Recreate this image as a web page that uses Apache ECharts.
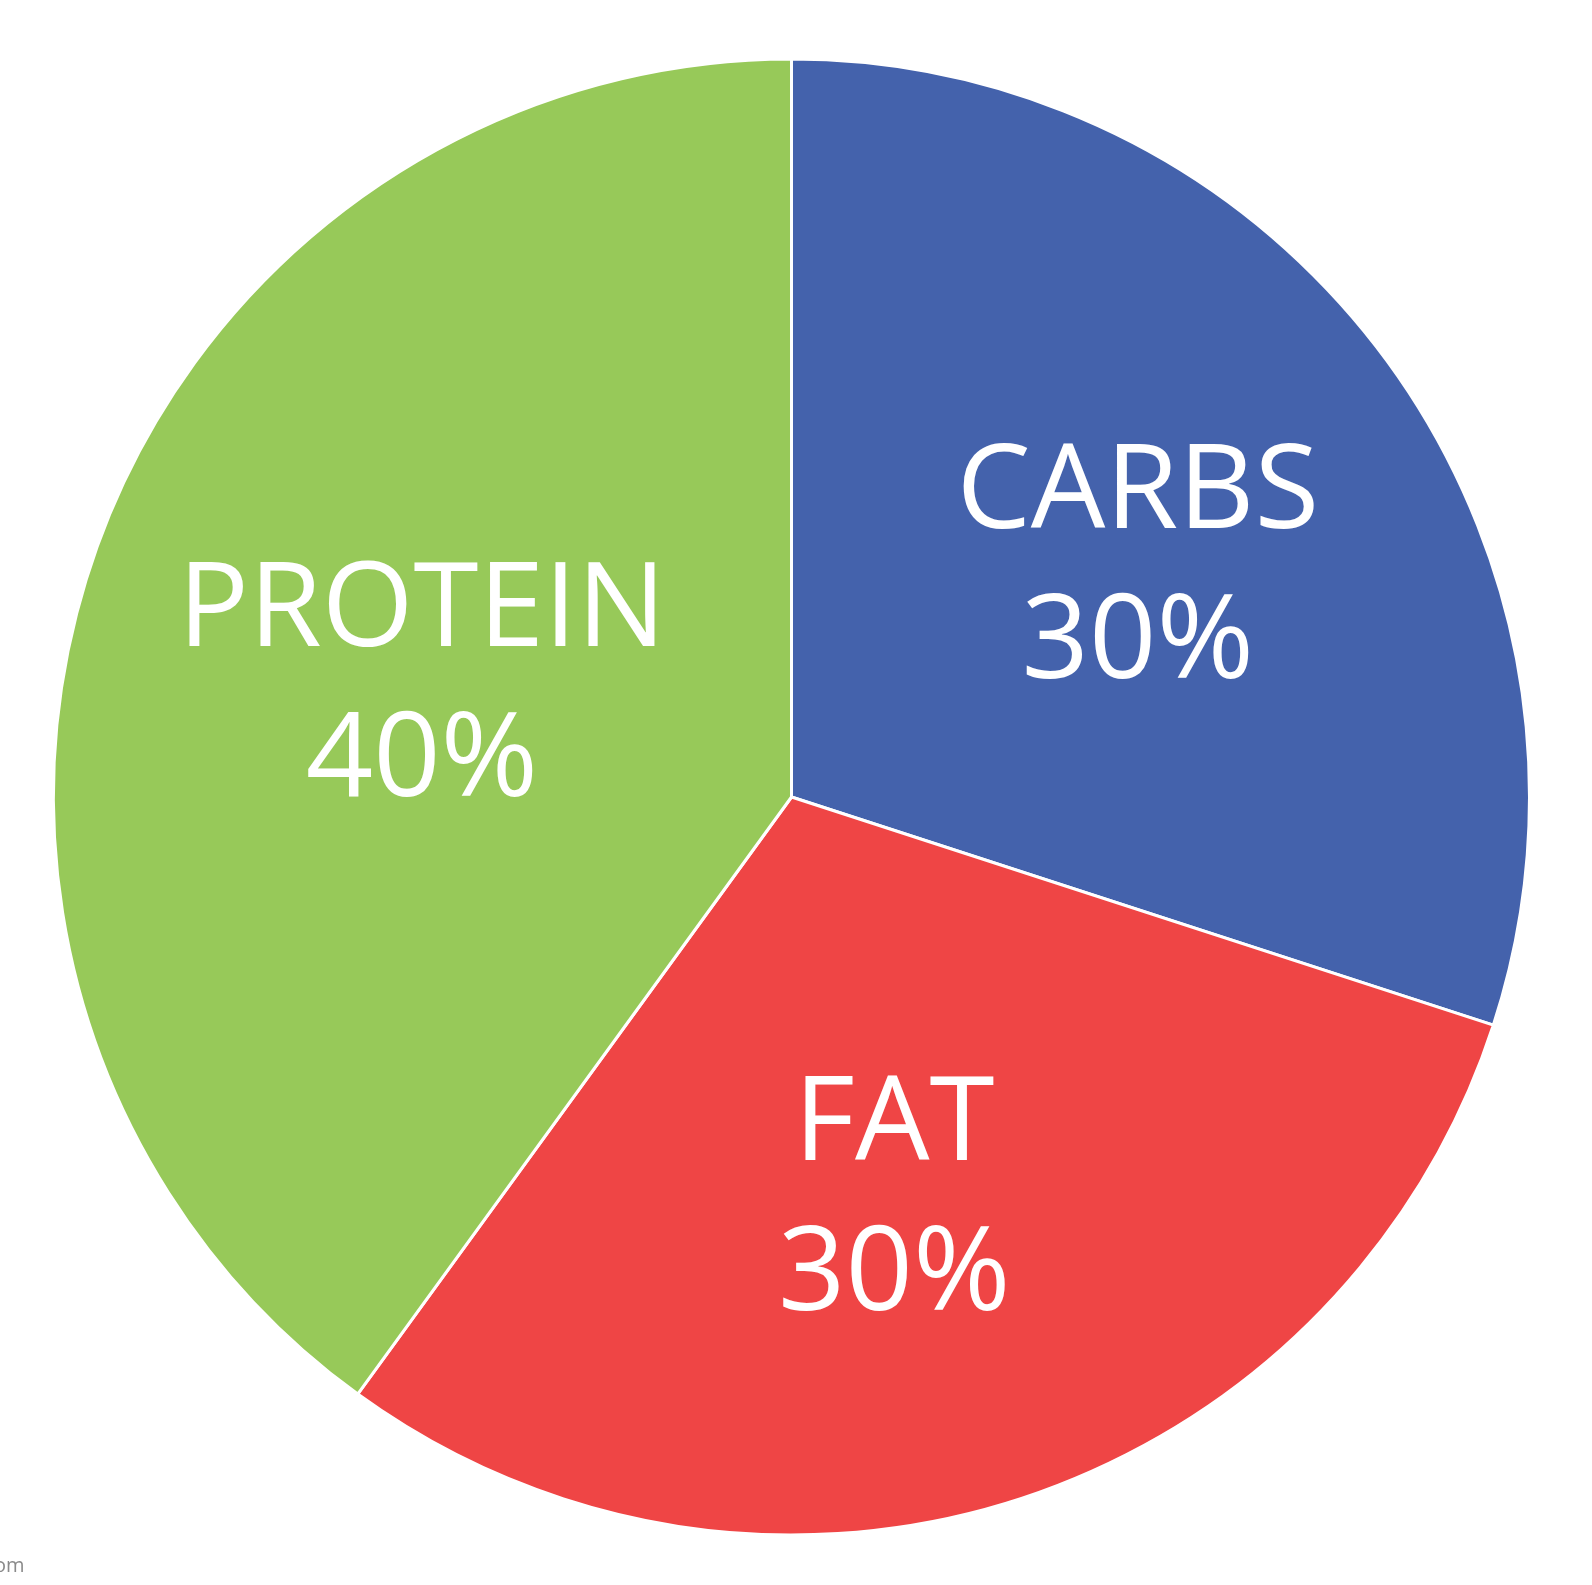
<!DOCTYPE html>
<html>
<head>
<meta charset="utf-8">
<script src="https://cdn.jsdelivr.net/npm/echarts@6/dist/echarts.min.js"></script>
<style>
html,body{margin:0;padding:0;background:#fff;}
#chart{width:1592px;height:1585px;}
</style>
</head>
<body>
<div id="chart"></div>
<script>
const categories = ['CARBS', 'FAT', 'PROTEIN'];
const values = [30, 30, 40];
const colors = ['#4462AC', '#EF4545', '#97C959'];

const labelOffsets = { CARBS: [9, 17], FAT: [-26, 8], PROTEIN: [27, 19] };

const chart = echarts.init(document.getElementById('chart'));
const center = [791.5, 797];
const R = 738;

const pieData = categories.map((name, i) => ({
  name: name,
  value: values[i],
  itemStyle: { color: colors[i] }
}));

const labelData = categories.map((name, i) => ({
  name: name,
  value: values[i],
  label: { offset: labelOffsets[name] }
}));

chart.setOption({
  animation: false,
  graphic: [{
    type: 'text',
    left: -6,
    top: 1556,
    style: { text: 'om', fill: '#8a8a8a', font: '20px "Open Sans"' }
  }],
  series: [
    {
      type: 'pie',
      center: center,
      radius: [0, R],
      startAngle: 90,
      clockwise: true,
      silent: true,
      label: { show: false },
      labelLine: { show: false },
      itemStyle: { borderColor: '#ffffff', borderWidth: 3 },
      data: pieData
    },
    {
      type: 'pie',
      center: center,
      radius: [90, R],
      startAngle: 90,
      clockwise: true,
      silent: true,
      itemStyle: { color: 'rgba(0,0,0,0)', borderWidth: 0 },
      labelLine: { show: false },
      label: {
        show: true,
        position: 'inside',
        formatter: '{b}\n{c}%',
        color: '#ffffff',
        fontFamily: '"Open Sans"',
        fontSize: 118,
        lineHeight: 150,
        align: 'center'
      },
      data: labelData
    }
  ]
});
</script>
</body>
</html>
